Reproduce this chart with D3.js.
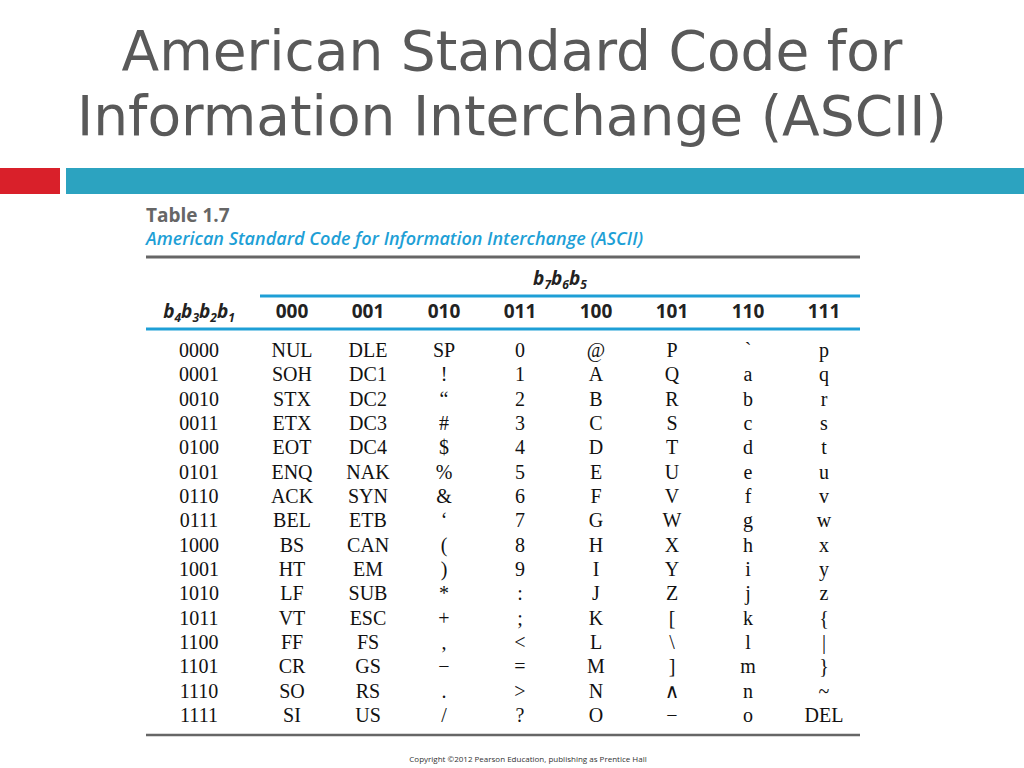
<!DOCTYPE html>
<html>
<head>
<meta charset="utf-8">
<script src="https://cdn.jsdelivr.net/npm/d3@7"></script>
<style>
  body { margin: 0; background: #fff; }
</style>
</head>
<body>
<svg id="chart" width="1024" height="768"></svg>
<script>
// column headings (b7b6b5) and row headings (b4b3b2b1)
const highBits = ["000", "001", "010", "011", "100", "101", "110", "111"];
const lowBits = ["0000", "0001", "0010", "0011", "0100", "0101", "0110", "0111",
                 "1000", "1001", "1010", "1011", "1100", "1101", "1110", "1111"];

// one list per column
const col000 = ["NUL", "SOH", "STX", "ETX", "EOT", "ENQ", "ACK", "BEL", "BS", "HT", "LF", "VT", "FF", "CR", "SO", "SI"];
const col001 = ["DLE", "DC1", "DC2", "DC3", "DC4", "NAK", "SYN", "ETB", "CAN", "EM", "SUB", "ESC", "FS", "GS", "RS", "US"];
const col010 = ["SP", "!", "\u201C", "#", "$", "%", "&", "\u2018", "(", ")", "*", "+", ",", "\u2212", ".", "/"];
const col011 = ["0", "1", "2", "3", "4", "5", "6", "7", "8", "9", ":", ";", "<", "=", ">", "?"];
const col100 = ["@", "A", "B", "C", "D", "E", "F", "G", "H", "I", "J", "K", "L", "M", "N", "O"];
const col101 = ["P", "Q", "R", "S", "T", "U", "V", "W", "X", "Y", "Z", "[", "\\", "]", "\u2227", "\u2212"];
const col110 = ["`", "a", "b", "c", "d", "e", "f", "g", "h", "i", "j", "k", "l", "m", "n", "o"];
const col111 = ["p", "q", "r", "s", "t", "u", "v", "w", "x", "y", "z", "{", "|", "}", "~", "DEL"];
const columns = [col000, col001, col010, col011, col100, col101, col110, col111];

const svg = d3.select("#chart");

// slide title
svg.selectAll("text.title")
    .data(["American Standard Code for", "Information Interchange (ASCII)"])
    .join("text")
    .attr("x", 512)
    .attr("y", (d, i) => 70 + i * 65)
    .attr("text-anchor", "middle")
    .attr("font-family", "'DejaVu Sans', sans-serif")
    .attr("font-size", 55)
    .attr("fill", "#595959")
    .text(d => d);

// accent bars
svg.append("rect").attr("x", 0).attr("y", 168).attr("width", 60).attr("height", 26).attr("fill", "#d9202a");
svg.append("rect").attr("x", 66).attr("y", 168).attr("width", 958).attr("height", 26).attr("fill", "#2ca3c0");

// table captions
svg.append("text").attr("x", 146).attr("y", 222)
    .attr("font-family", "'Open Sans', sans-serif").attr("font-weight", "bold")
    .attr("font-size", 19).attr("fill", "#666").text("Table 1.7");
svg.append("text").attr("x", 146).attr("y", 245)
    .attr("font-family", "'Open Sans', sans-serif").attr("font-style", "italic")
    .attr("font-weight", 600)
    .attr("font-size", 18).attr("fill", "#1e9fd6")
    .text("American Standard Code for Information Interchange (ASCII)");

svg.append("line").attr("x1", 146).attr("x2", 860).attr("y1", 257).attr("y2", 257)
    .attr("stroke", "#666").attr("stroke-width", 3);

// scales
const x = d3.scalePoint().domain(d3.range(8)).range([292, 824]);
const y = d3.scaleLinear().domain([0, 15]).range([350, 715]);

// bold italic b with subscripts
function subLabel(sel, nums) {
    nums.forEach((n, i) => {
        sel.append("tspan").attr("dy", i === 0 ? 0 : -4).text("b");
        sel.append("tspan").attr("font-size", 12).attr("dy", 4).text(n);
    });
}

const hb = svg.append("text").attr("x", 560).attr("y", 285).attr("text-anchor", "middle")
    .attr("font-family", "'Open Sans', sans-serif").attr("font-weight", "bold")
    .attr("font-style", "italic").attr("font-size", 19).attr("fill", "#222");
subLabel(hb, ["7", "6", "5"]);

svg.append("line").attr("x1", 260).attr("x2", 860).attr("y1", 296).attr("y2", 296)
    .attr("stroke", "#1e9fd6").attr("stroke-width", 3);

// header row
const hl = svg.append("text").attr("x", 199).attr("y", 318).attr("text-anchor", "middle")
    .attr("font-family", "'Open Sans', sans-serif").attr("font-weight", "bold")
    .attr("font-style", "italic").attr("font-size", 19).attr("fill", "#222");
subLabel(hl, ["4", "3", "2", "1"]);

svg.selectAll("text.hdr")
    .data(highBits)
    .join("text")
    .attr("class", "hdr")
    .attr("x", (d, i) => x(i))
    .attr("y", 318)
    .attr("text-anchor", "middle")
    .attr("font-family", "'Open Sans', sans-serif")
    .attr("font-weight", "bold")
    .attr("font-size", 19)
    .attr("fill", "#222")
    .text(d => d);

svg.append("line").attr("x1", 146).attr("x2", 860).attr("y1", 329).attr("y2", 329)
    .attr("stroke", "#1e9fd6").attr("stroke-width", 3);

// body
const serif = "'Liberation Serif', 'DejaVu Serif', serif";
svg.selectAll("text.row")
    .data(lowBits)
    .join("text")
    .attr("class", "row")
    .attr("x", 199)
    .attr("y", (d, i) => y(i) + 7)
    .attr("text-anchor", "middle")
    .attr("font-family", serif)
    .attr("font-size", 20)
    .attr("fill", "#111")
    .text(d => d);

columns.forEach((col, ci) => {
    svg.selectAll("text.c" + ci)
        .data(col)
        .join("text")
        .attr("class", "c" + ci)
        .attr("x", x(ci))
        .attr("y", (d, i) => y(i) + 7)
        .attr("text-anchor", "middle")
        .attr("font-family", serif)
        .attr("font-size", 20)
        .attr("fill", "#111")
        .text(d => d);
});

svg.append("line").attr("x1", 146).attr("x2", 860).attr("y1", 735).attr("y2", 735)
    .attr("stroke", "#666").attr("stroke-width", 2.5);

svg.append("text").attr("x", 528).attr("y", 762).attr("text-anchor", "middle")
    .attr("font-family", "'Open Sans', sans-serif").attr("font-size", 8).attr("fill", "#333")
    .text("Copyright \u00A92012 Pearson Education, publishing as Prentice Hall");
</script>
</body>
</html>
